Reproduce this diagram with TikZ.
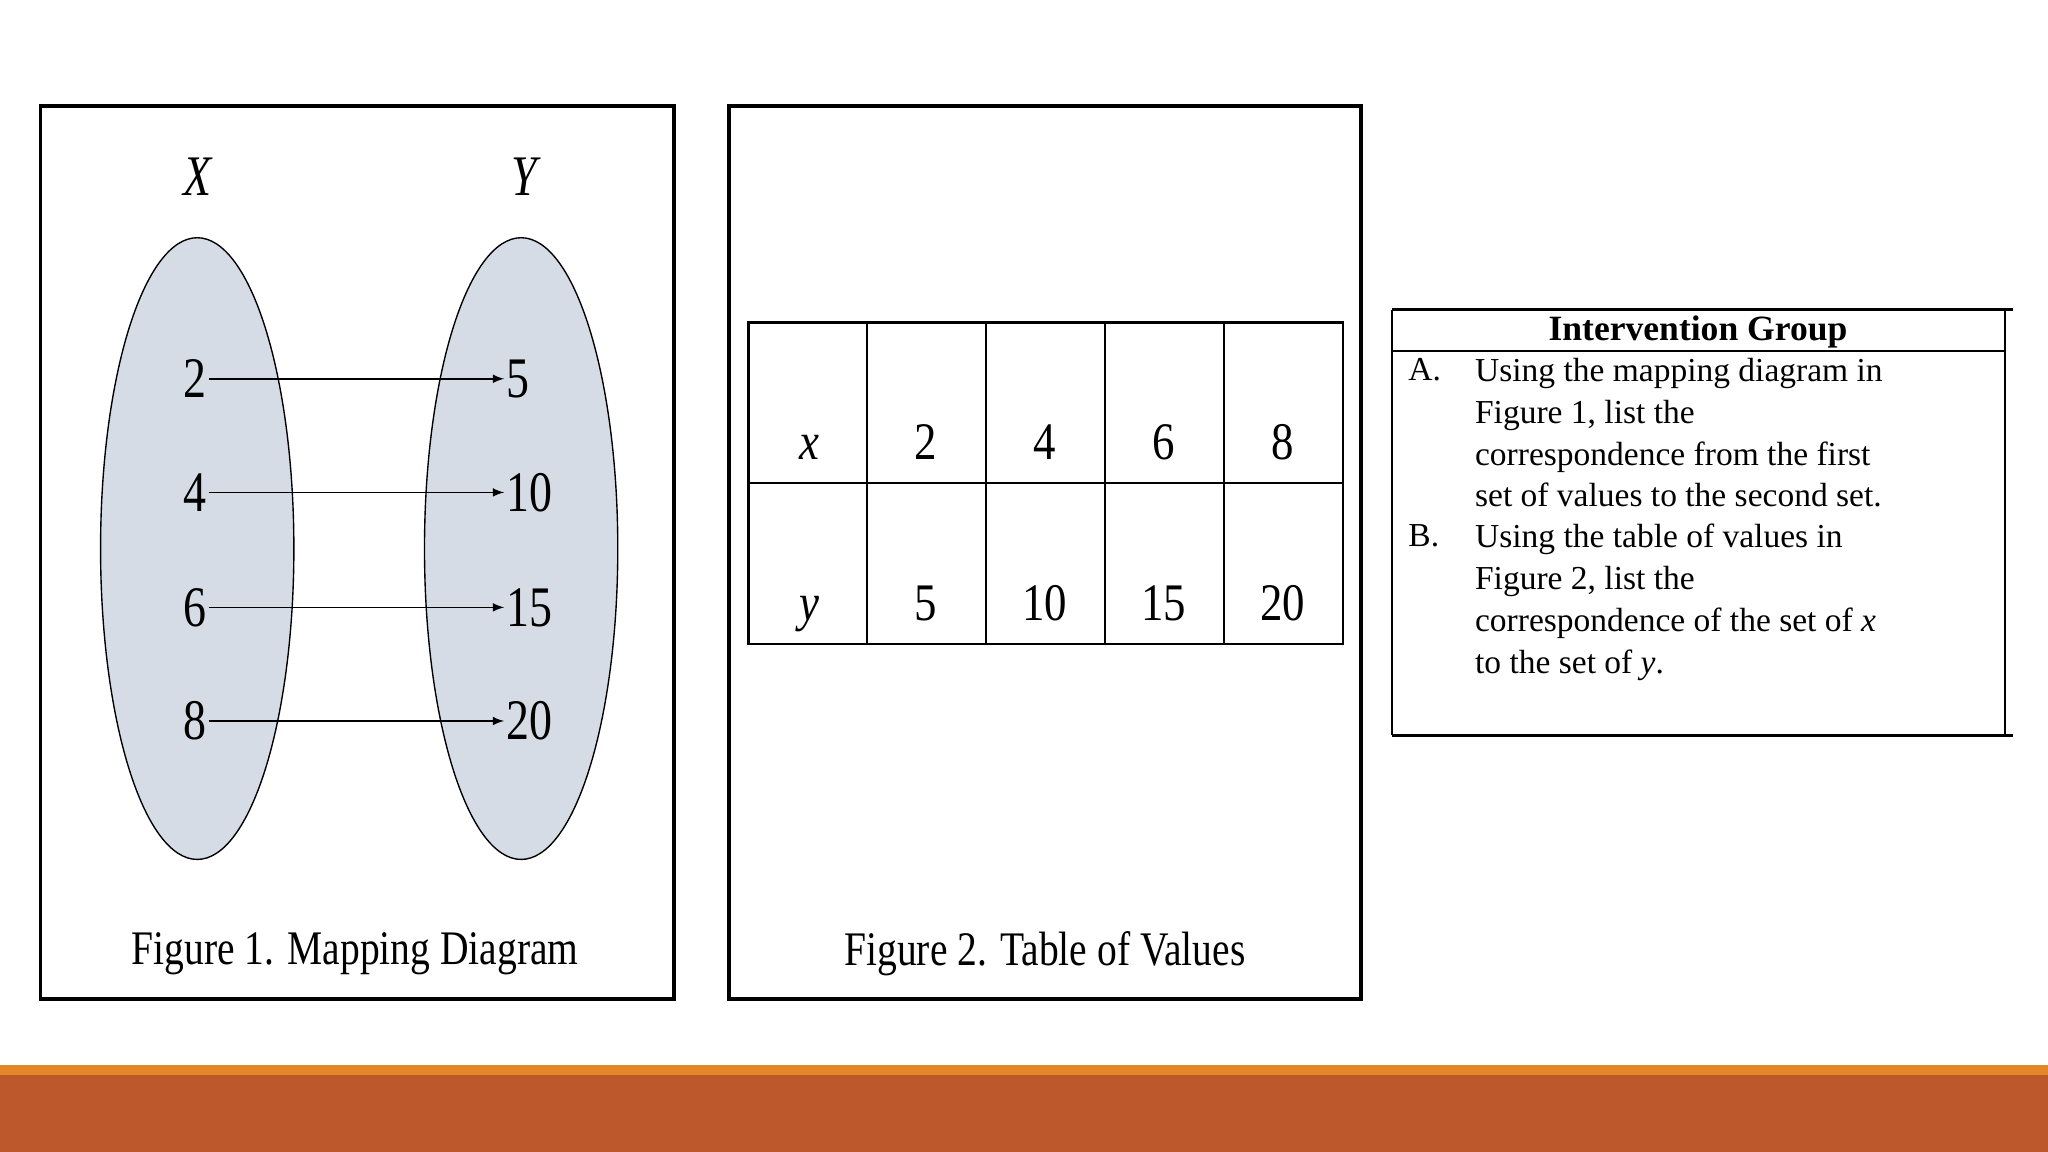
\documentclass[tikz,border=0pt]{standalone}
\usepackage{fontspec}
\setmainfont{Liberation Serif}
\definecolor{rust}{RGB}{188,88,44}
\definecolor{orangeband}{RGB}{228,135,40}
\definecolor{setfill}{RGB}{214,220,230}
\begin{document}
\begin{tikzpicture}[x=0.02cm,y=-0.02cm,
  frame/.style={draw,line width=1.6pt},
  setell/.style={draw,fill=setfill,line width=0.6pt},
  num/.style={font=\fontsize{25}{25}\selectfont,xscale=0.8,inner sep=1pt},
  figcap/.style={font=\fontsize{21}{21}\selectfont,xscale=0.82},
  arr/.style={-latex,line width=0.7pt},
  cell/.style={font=\fontsize{23}{23}\selectfont,xscale=0.85,anchor=base},
  body/.style={font=\fontsize{14.6}{18.2}\selectfont,anchor=north west,align=left,inner sep=0pt}]
\useasboundingbox (0,0) rectangle (1568,882);
% bottom bands
\fill[rust] (0,823) rectangle (1568,882);
\fill[orangeband] (0,815) rectangle (1568,823);
% frames
\draw[frame] (31,81) rectangle (516,765);
\draw[frame] (558,81) rectangle (1042,765);
% ellipses
\draw[setell] (151,420) ellipse [x radius=74,y radius=238];
\draw[setell] (399,420) ellipse [x radius=74,y radius=238];
\node[num] (X) at (151,135) {\itshape X};
\node[num] (Y) at (401,135) {\itshape Y};
\foreach \a/\b/\y [count=\i] in {2/5/290,4/10/377,6/15/465,8/20/552}{
  \node[num,anchor=east] (l\i) at (160,\y) {\a};
  \node[num,anchor=west] (r\i) at (386,\y) {\b};
  \draw[arr] (l\i.east) -- (r\i.west);
}
\node[figcap] (c1) at (272,730) {Figure 1. Mapping Diagram};
\node[figcap] (c2) at (800,730) {Figure 2. Table of Values};
% table
\draw[line width=1pt] (573,247) rectangle (1028,493);
\draw[line width=1pt] (573,370) -- (1028,370);
\foreach \x in {664,755,846,937} \draw[line width=1pt] (\x,247) -- (\x,493);
\node[cell] at (620,352) {\itshape x};
\node[cell] at (620,475) {\itshape y};
\foreach \t/\b/\x in {2/5/709,4/10/800,6/15/891,8/20/982}{
  \node[cell] at (\x,352) {\t};
  \node[cell] at (\x,475) {\b};
}
% intervention box
\draw[line width=1pt] (1066,237) -- (1541,237);
\draw[line width=1pt] (1066,563) -- (1541,563);
\draw[line width=1pt] (1066,237) -- (1066,563);
\draw[line width=1pt] (1535,237) -- (1535,563);
\draw[line width=1pt] (1066,269) -- (1535,269);
\node[font=\fontsize{15.5}{15.5}\selectfont\bfseries] (ig) at (1300,254) {Intervention Group};
\node[body] (A) at (1078,274) {A.};
\node[body] (At) at (1129,274) {Using the mapping diagram in\\Figure 1, list the\\correspondence from the first\\set of values to the second set.};
\node[body] (B) at (1078,401) {B.};
\node[body] (Bt) at (1129,401) {Using the table of values in\\Figure 2, list the\\correspondence of the set of \textit{x}\\to the set of \textit{y}.};
\end{tikzpicture}
\end{document}
